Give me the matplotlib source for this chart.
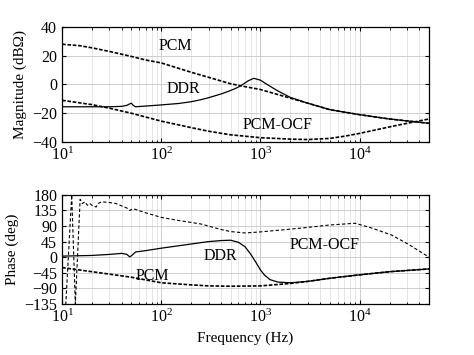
import numpy as np
import matplotlib
matplotlib.use("Agg")
import matplotlib.pyplot as plt
from matplotlib.ticker import LogLocator, LogFormatterMathtext, NullFormatter

plt.rcParams["font.family"] = ["Liberation Serif", "DejaVu Serif"]
plt.rcParams["mathtext.fontset"] = "stix"
plt.rcParams["font.size"] = 11

# magnitude (dB Ohm)
f_pcm_mag = [10, 15, 20, 30, 50, 70, 100, 200, 300, 500, 700, 1000, 2000, 3000, 5000, 10000, 20000, 50000]
pcm_mag = [28, 27, 25.5, 23, 19.5, 17, 15, 8.5, 5, 0.5, -1.5, -3.5, -9.5, -13, -17.5, -21, -24, -27]

f_ddr_mag = [10, 20, 30, 40, 45, 48, 50, 52, 55, 70, 100, 150, 200, 250, 300, 400, 465, 550, 630, 750,
             855, 1000, 1200, 1500, 2000, 3000, 5000, 10000, 20000, 50000]
ddr_mag = [-15.5, -15.5, -15.5, -15.2, -14.5, -13.5, -13, -14.5, -15.5, -15, -14.2, -13.2, -12, -10.6,
           -9.2, -6.6, -5, -3, -1, 2.5, 4.3, 3, -0.5, -4.5, -9, -13, -17.5, -21, -24, -27]

f_ocf_mag = [10, 20, 30, 50, 100, 200, 300, 500, 1000, 2000, 3000, 5000, 7000, 10000, 20000, 30000, 50000]
ocf_mag = [-11, -14, -16.5, -20, -25.5, -30, -32.5, -35, -37, -38, -38.3, -37.5, -36, -34, -29.5, -27, -24]

# phase (deg)
f_pcm_ph = [10, 20, 30, 50, 100, 200, 300, 500, 1000, 1500, 2000, 3000, 5000, 10000, 20000, 50000]
pcm_ph = [-30, -42, -49, -58, -74, -80, -83, -84, -83, -79, -76, -70, -61, -51, -42, -34]

f_ddr_ph = [10, 20, 30, 40, 45, 48, 50, 55, 70, 100, 200, 300, 400, 500, 600, 700, 800, 900, 1000,
            1100, 1250, 1500, 2000, 3000, 5000, 10000, 20000, 50000]
ddr_ph = [3, 5, 8, 11, 8, 1, 4, 15, 19, 26, 38, 45, 48, 49, 43, 30, 8, -15, -37,
          -52, -65, -72, -74, -70, -61, -51, -42, -34]

f_ocf_ph = [10.3, 10.9, 12.5, 13.6, 15.2, 16, 17, 18, 19, 20, 22, 23, 25, 30, 35, 40, 45, 48, 52, 55,
            70, 100, 150, 250, 400, 500, 700, 1000, 1400, 2000, 3000, 5000, 9000, 13000, 21000, 32000, 50000]
ocf_ph = [-250, -135, 180, -135, 167, 155, 160, 150, 155, 150, 145, 155, 160, 158, 155, 148, 142, 135, 140,
          138, 128, 115, 106, 96, 80, 74, 70, 73, 77, 81, 86, 93, 98, 85, 64, 35, 0]


def style_axes(ax):
    ax.set_xscale("log")
    ax.set_xlim(10, 50000)
    ax.xaxis.set_major_locator(LogLocator(base=10, numticks=10))
    ax.xaxis.set_major_formatter(LogFormatterMathtext())
    ax.xaxis.set_minor_locator(LogLocator(base=10, subs=np.arange(2, 10), numticks=20))
    ax.xaxis.set_minor_formatter(NullFormatter())
    ax.grid(True, which="major", color="#c8c8c8", linewidth=0.6)
    ax.grid(True, which="minor", color="#dcdcdc", linewidth=0.5)
    ax.tick_params(which="both", direction="in", top=True, right=True, labelsize=11.5)
    ax.tick_params(which="major", length=3)
    ax.tick_params(which="minor", length=1.8)
    for s in ax.spines.values():
        s.set_linewidth(0.9)


fig = plt.figure(figsize=(4.74, 3.55), dpi=100)
ax1 = fig.add_axes([0.131, 0.600, 0.774, 0.324])
ax2 = fig.add_axes([0.131, 0.144, 0.774, 0.307])

dash_thick = (0, (2.2, 1.0))
ax1.plot(f_pcm_mag, pcm_mag, color="k", lw=1.2, ls=dash_thick)
ax1.plot(f_ocf_mag, ocf_mag, color="k", lw=1.2, ls=dash_thick)
ax1.plot(f_ddr_mag, ddr_mag, color="k", lw=0.9)
ax1.set_ylim(-40, 40)
ax1.set_yticks([-40, -20, 0, 20, 40])
ax1.set_ylabel("Magnitude (dB\u03a9)", fontsize=11)
ax1.text(140, 27, "PCM", ha="center", va="center", fontsize=11.5)
ax1.text(168, -3, "DDR", ha="center", va="center", fontsize=11.5)
ax1.text(1500, -28, "PCM-OCF", ha="center", va="center", fontsize=11.5)
style_axes(ax1)

ax2.plot(f_pcm_ph, pcm_ph, color="k", lw=1.2, ls=dash_thick)
ax2.plot(f_ocf_ph, ocf_ph, color="k", lw=0.8, ls=(0, (3, 2)))
ax2.plot(f_ddr_ph, ddr_ph, color="k", lw=0.9)
ax2.set_ylim(-135, 180)
ax2.set_yticks(np.arange(-135, 181, 45))
ax2.set_ylabel("Phase (deg)", fontsize=11)
ax2.set_xlabel("Frequency (Hz)", fontsize=11)
ax2.text(395, 4, "DDR", ha="center", va="center", fontsize=11.5)
ax2.text(81, -54, "PCM", ha="center", va="center", fontsize=11.5)
ax2.text(4400, 35, "PCM-OCF", ha="center", va="center", fontsize=11.5)
style_axes(ax2)

fig.savefig("out.png", dpi=100)
